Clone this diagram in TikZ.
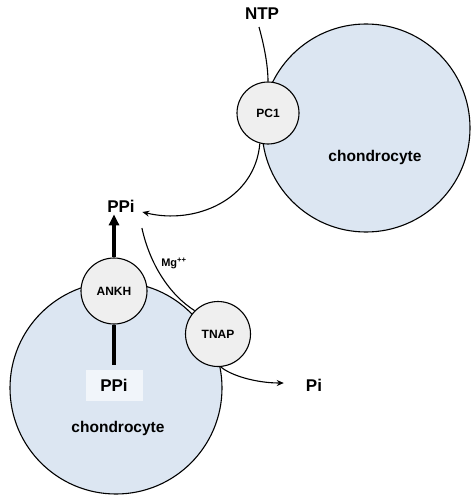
\documentclass[tikz,border=0pt]{standalone}
\usepackage{fontspec}
\setmainfont{Liberation Sans}
\usepackage{xcolor}
\usetikzlibrary{arrows.meta,calc}
\definecolor{cellblue}{RGB}{220,230,242}
\definecolor{enzymegray}{RGB}{239,239,239}
\definecolor{poolblue}{RGB}{241,245,250}

\begin{document}
\begin{tikzpicture}[x=1pt,y=-1pt]
  \tikzset{cellbody/.style={circle,fill=cellblue,draw=black,line width=1.1pt,inner sep=0pt}}
  \tikzset{enzyme/.style={circle,fill=enzymegray,draw=black,line width=1.1pt,inner sep=0pt,font=\bfseries\fontsize{12}{14}\selectfont}}
  \tikzset{metabolite/.style={font=\bfseries\fontsize{17}{20}\selectfont,inner sep=2pt}}
  \tikzset{celllabel/.style={font=\bfseries\fontsize{15.5}{18}\selectfont}}
  \tikzset{ionlabel/.style={font=\bfseries\fontsize{11}{13}\selectfont}}
  \tikzset{reaction/.style={draw=black,line width=1.1pt}}
  \tikzset{transport/.style={draw=black,line width=3.5pt}}
  \useasboundingbox (0,0) rectangle (474,500);
  % cells
  \node[cellbody,minimum size=208pt] (cellA) at (366,128) {};
  \node[cellbody,minimum size=212pt] (cellB) at (116,388) {};
  \node[celllabel] (labelA) at (375,157) {chondrocyte};
  \node[celllabel] (labelB) at (118,428) {chondrocyte};
  % metabolites
  \node[metabolite] (ntp) at (262,14) {NTP};
  \node[metabolite] (ppiout) at (121,206) {PPi};
  \node[metabolite] (pi) at (314,385) {Pi};
  \node[metabolite,fill=poolblue,minimum width=57pt,minimum height=31pt] (ppiin) at (114,385) {PPi};
  \node[ionlabel] (mg) at (174,263) {Mg\textsuperscript{++}};
  % enzymes
  \node[enzyme,minimum size=62pt] (pcone) at (268,113) {PC1};
  \node[enzyme,minimum size=66pt] (ankh) at (114,291) {ANKH};
  \node[enzyme,minimum size=65pt] (tnap) at (218,334) {TNAP};
  % reactions
  \draw[reaction] ($(ntp.south)+(-3,5)$) .. controls (264,45) and (268,65) .. (pcone.north);
  \draw[reaction,-{Stealth[length=7pt,width=6pt]}] (pcone.-105) .. controls (255,200) and (195,225) .. ($(ppiout.east)+(5.5,6)$);
  \draw[reaction] ($(ppiout.east)+(5,22)$) .. controls (150,265) and (170,295) .. (tnap.135);
  \draw[reaction,-{Stealth[length=7pt,width=6pt]}] (tnap.-85) .. controls (230,375) and (255,383) .. ($(pi.west)+(-20,-2)$);
  % transport through ANKH
  \draw[transport,shorten >=4pt] (ankh.south) -- (ppiin.north);
  \draw[transport,-{Triangle[length=11pt,width=10pt]}] (ankh.north) -- (ankh.north |- ppiout.south);
\end{tikzpicture}
\end{document}
